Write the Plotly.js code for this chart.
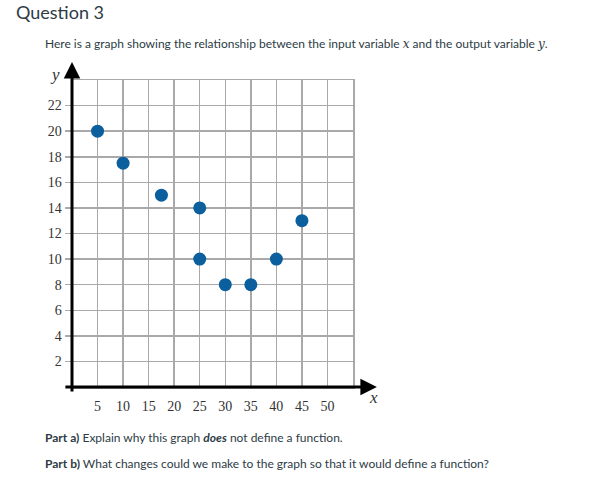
<!DOCTYPE html>
<html>
<head>
<meta charset="utf-8">
<script src="https://cdn.plot.ly/plotly-3.0.1.min.js"></script>
<style>html,body{margin:0;padding:0;background:#fff;}#chart{width:605px;height:487px;}</style>
</head>
<body>
<div id="chart"></div>
<script>
// Data
const xValues = [5, 10, 17.5, 25, 25, 30, 35, 40, 45];
const yValues = [20, 17.5, 15, 14, 10, 8, 8, 10, 13];
const xTickVals = [5, 10, 15, 20, 25, 30, 35, 40, 45, 50, 55];
const xTickText = ['5', '10', '15', '20', '25', '30', '35', '40', '45', '50', ''];
const yTickVals = [2, 4, 6, 8, 10, 12, 14, 16, 18, 20, 22];
const yTickText = ['2', '4', '6', '8', '10', '12', '14', '16', '18', '20', '22'];
const xRange = [0, 55];
const yRange = [0, 24];

const titleText = 'Question 3';
const introText = 'Here is a graph showing the relationship between the input variable ' +
  '<i><span style="font-family:\'DejaVu Serif\'">x</span></i> and the output variable ' +
  '<i><span style="font-family:\'DejaVu Serif\'">y</span></i>.';
const partAText = '<b>Part a)</b> Explain why this graph <b><i>does</i></b> not define a function.';
const partBText = '<b>Part b)</b> What changes could we make to the graph so that it would define a function?';

const gridColor = '#a9a9a9';
const textColor = '#2d3b45';
const serif = 'Liberation Serif, Times New Roman, serif';

const trace = {
  x: xValues, y: yValues, type: 'scatter', mode: 'markers',
  marker: {color: '#0b5f9c', size: 13, line: {width: 0}},
  hoverinfo: 'skip', cliponaxis: false
};

const layout = {
  width: 605, height: 487,
  margin: {l: 72, r: 252, t: 80, b: 100, pad: 0},
  paper_bgcolor: '#ffffff', plot_bgcolor: '#ffffff',
  showlegend: false,
  xaxis: {
    range: xRange, tickvals: xTickVals, ticktext: xTickText,
    showgrid: true, gridcolor: gridColor, gridwidth: 1.5,
    zeroline: false, showline: true, mirror: true, linecolor: gridColor, linewidth: 1.5,
    ticks: '', ticklabelstandoff: 6,
    tickfont: {family: serif, size: 14, color: '#333'},
    fixedrange: true
  },
  yaxis: {
    range: yRange, tickvals: yTickVals, ticktext: yTickText,
    showgrid: true, gridcolor: gridColor, gridwidth: 1.5,
    zeroline: false, showline: true, mirror: true, linecolor: gridColor, linewidth: 1.5,
    ticks: 'outside', ticklen: 6, tickwidth: 1.5, tickcolor: gridColor,
    tickfont: {family: serif, size: 14, color: '#333'},
    fixedrange: true
  },
  annotations: [
    // x axis arrow
    {xref: 'paper', yref: 'paper', x: 1.085, y: 0, ax: -313, ay: 0, text: '',
     showarrow: true, arrowhead: 2, arrowsize: 1.1, arrowwidth: 3, arrowcolor: '#000', standoff: 0},
    // y axis arrow
    {xref: 'paper', yref: 'paper', x: 0, y: 1.0586, ax: 0, ay: 331, text: '',
     showarrow: true, arrowhead: 2, arrowsize: 1.1, arrowwidth: 3, arrowcolor: '#000', standoff: 0},
    // axis labels
    {xref: 'paper', yref: 'paper', x: -0.0605, y: 1.0195, text: 'y', showarrow: false,
     font: {family: serif, size: 17, color: '#333', style: 'italic'}, xanchor: 'center', yanchor: 'middle'},
    {xref: 'paper', yref: 'paper', x: 1.0712, y: -0.0358, text: 'x', showarrow: false,
     font: {family: serif, size: 17, color: '#333', style: 'italic'}, xanchor: 'center', yanchor: 'middle'},
    // texts
    {xref: 'paper', yref: 'paper', x: -0.2064, y: 1.2215, text: titleText, showarrow: false,
     font: {family: 'Lato', size: 18, color: textColor}, xanchor: 'left', yanchor: 'middle'},
    {xref: 'paper', yref: 'paper', x: -0.1032, y: 1.1205, text: introText, showarrow: false,
     font: {family: 'Lato', size: 12, color: textColor}, xanchor: 'left', yanchor: 'middle'},
    {xref: 'paper', yref: 'paper', x: -0.1032, y: -0.1629, text: partAText, showarrow: false,
     font: {family: 'Lato', size: 12, color: textColor}, xanchor: 'left', yanchor: 'middle'},
    {xref: 'paper', yref: 'paper', x: -0.1032, y: -0.2508, text: partBText, showarrow: false,
     font: {family: 'Lato', size: 12, color: textColor}, xanchor: 'left', yanchor: 'middle'}
  ]
};

Plotly.newPlot('chart', [trace], layout, {staticPlot: true, displayModeBar: false});
</script>
</body>
</html>
